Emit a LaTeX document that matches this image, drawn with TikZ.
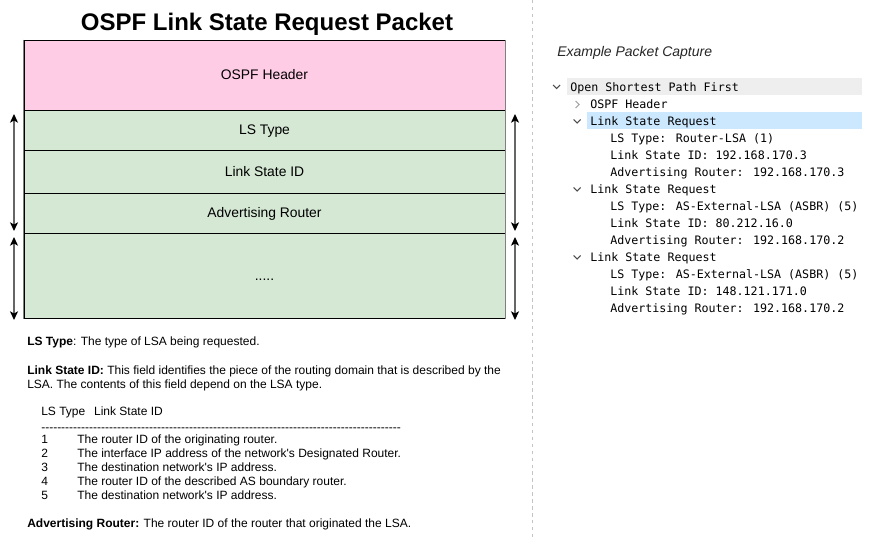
\documentclass[tikz,border=0pt]{standalone}
\usepackage{fontspec}
\setmainfont{Liberation Sans}
\newfontfamily\monofont{DejaVu Sans Mono}
\usetikzlibrary{arrows.meta}
\definecolor{hdrpink}{HTML}{FFCCE6}
\definecolor{cellgreen}{HTML}{D5E8D4}
\definecolor{treegray}{HTML}{EEEEEE}
\definecolor{treeblue}{HTML}{CCE8FF}
\definecolor{divgray}{HTML}{C4C4C4}
\definecolor{sidegray}{HTML}{808080}
\def\tendash{-{}-{}-{}-{}-{}-{}-{}-{}-{}-{}}
\def\dashrow{\tendash\tendash\tendash\tendash\tendash\tendash\tendash\tendash\tendash}
\begin{document}
\begin{tikzpicture}[x=0.75pt,y=-0.75pt,
  cell/.style={draw=black, line width=0.75pt, inner sep=0pt, minimum width=360.75pt,
    font=\fontsize{10.4}{12}\selectfont, text height=7.3pt, text depth=0pt},
  sideline/.style={draw=sidegray, line width=1.1pt},
  dimarrow/.style={draw=black!60, line width=0.9pt,
    {Stealth[length=6.5pt,width=6pt,inset=1.6pt,black]}-{Stealth[length=6.5pt,width=6pt,inset=1.6pt,black]}},
  divider/.style={draw=divgray, line width=0.75pt, dash pattern=on 2.6pt off 2.6pt},
  txt/.style={font=\fontsize{9}{10.5}\selectfont, anchor=base west, inner sep=0pt},
  tree/.style={font=\monofont\fontsize{8.75}{10}\selectfont, anchor=base west, inner sep=0pt, text=black},
  chev/.style={draw=black!70, line width=0.8pt},
  chevoff/.style={draw=black!35, line width=0.8pt}
]
\useasboundingbox (0,0) rectangle (873,539);

% title
\node[font=\bfseries\fontsize{18}{20}\selectfont, anchor=base, inner sep=0pt] (title) at (267,30) {OSPF Link State Request Packet};

% packet cells
\node[cell, fill=hdrpink, minimum height=52.5pt] (hdr) at (264.5,75) {OSPF Header};
\node[cell, fill=cellgreen, minimum height=30pt] (lstype) at (264.5,130) {LS Type};
\node[cell, fill=cellgreen, minimum height=32.25pt] (lsid) at (264.5,171.5) {Link State ID};
\node[cell, fill=cellgreen, minimum height=30pt] (advr) at (264.5,213) {Advertising Router};
\node[cell, fill=cellgreen, minimum height=63.75pt] (more) at (264.5,275.5) {.....};
\draw[sideline] (hdr.north west) -- (more.south west);
\draw[sideline] (hdr.north east) -- (more.south east);

% dimension arrows
\coordinate (la1) at (14,114);
\coordinate (lb1) at (14,231);
\coordinate (la2) at (14,237);
\coordinate (lb2) at (14,320);
\coordinate (ra1) at (515,114);
\coordinate (rb1) at (515,231);
\coordinate (ra2) at (515,237);
\coordinate (rb2) at (515,320);
\draw[dimarrow] (la1) -- (lb1);
\draw[dimarrow] (la2) -- (lb2);
\draw[dimarrow] (ra1) -- (rb1);
\draw[dimarrow] (ra2) -- (rb2);

% divider
\coordinate (dtop) at (532,0);
\coordinate (dbot) at (532,539);
\draw[divider] (dtop) -- (dbot);

% description text
\node[txt] (d1) at (27,345) {\textbf{LS Type}: The type of LSA being requested.};
\node[txt] (d2) at (27,374) {\textbf{Link State ID:} This field identifies the piece of the routing domain that is described by the};
\node[txt] (d3) at (27,388) {LSA. The contents of this field depend on the LSA type.};
\node[txt] (th) at (41,415) {LS Type\hspace{6.6pt}Link State ID};
\node[txt] (tdash) at (41,431) {\dashrow};
\node[txt] (n1) at (41,443) {1};
\node[txt] (t1) at (77,443) {The router ID of the originating router.};
\node[txt] (n2) at (41,457) {2};
\node[txt] (t2) at (77,457) {The interface IP address of the network\textquotesingle s Designated Router.};
\node[txt] (n3) at (41,471) {3};
\node[txt] (t3) at (77,471) {The destination network\textquotesingle s IP address.};
\node[txt] (n4) at (41,485) {4};
\node[txt] (t4) at (77,485) {The router ID of the described AS boundary router.};
\node[txt] (n5) at (41,499) {5};
\node[txt] (t5) at (77,499) {The destination network\textquotesingle s IP address.};
\node[txt] (d4) at (27,527) {\textbf{Advertising Router:} The router ID of the router that originated the LSA.};

% packet capture
\node[font=\itshape\fontsize{10.5}{12}\selectfont, anchor=base west, inner sep=0pt, text=black!85] (cap) at (557,56) {Example Packet Capture};
\fill[treegray] (567,78) rectangle (862,95);
\fill[treeblue] (587,112) rectangle (862,129);
\draw[chev] (553,85) -- (556.5,88.5) -- (560,85);
\draw[chevoff] (575.5,101) -- (579,104.5) -- (575.5,108);
\draw[chev] (573.5,119.5) -- (577,123) -- (580.5,119.5);
\draw[chev] (573.5,187.5) -- (577,191) -- (580.5,187.5);
\draw[chev] (573.5,255.5) -- (577,259) -- (580.5,255.5);
\node[tree] (r1) at (570,91) {Open Shortest Path First};
\node[tree] (r2) at (590,108) {OSPF Header};
\node[tree] (r3) at (590,125) {Link State Request};
\node[tree] (r4) at (610,142) {LS Type: Router-LSA (1)};
\node[tree] (r5) at (610,159) {Link State ID: 192.168.170.3};
\node[tree] (r6) at (610,176) {Advertising Router: 192.168.170.3};
\node[tree] (r7) at (590,193) {Link State Request};
\node[tree] (r8) at (610,210) {LS Type: AS-External-LSA (ASBR) (5)};
\node[tree] (r9) at (610,227) {Link State ID: 80.212.16.0};
\node[tree] (r10) at (610,244) {Advertising Router: 192.168.170.2};
\node[tree] (r11) at (590,261) {Link State Request};
\node[tree] (r12) at (610,278) {LS Type: AS-External-LSA (ASBR) (5)};
\node[tree] (r13) at (610,295) {Link State ID: 148.121.171.0};
\node[tree] (r14) at (610,312) {Advertising Router: 192.168.170.2};
\end{tikzpicture}
\end{document}
